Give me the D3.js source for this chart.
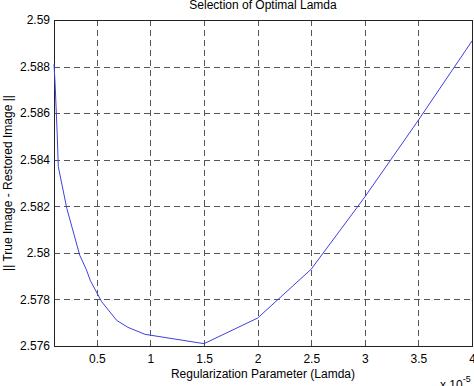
<!DOCTYPE html>
<html>
<head>
<meta charset="utf-8">
<script src="https://cdn.jsdelivr.net/npm/d3@7"></script>
<style>
	body { margin: 0; background: #fff; }
	svg text { font-family: "Liberation Sans", Arial, sans-serif; fill: #000; }
</style>
</head>
<body>
<script>
// data (lambda in units of 1e-5)
var lambdas = [0.1, 0.11, 0.13, 0.14, 0.22, 0.34, 0.4, 0.44, 0.545, 0.685, 0.79, 0.95, 1.5, 2, 2.5, 3, 3.5, 4];
var errors = [2.5881, 2.5873, 2.5851, 2.5837, 2.5819, 2.5799, 2.5793, 2.5788, 2.5779, 2.5771, 2.5768, 2.5765, 2.5761, 2.5772, 2.5793, 2.5824, 2.5857, 2.5891];
var xTicks = [0.5, 1, 1.5, 2, 2.5, 3, 3.5, 4];
var xTickLabels = ["0.5", "1", "1.5", "2", "2.5", "3", "3.5", "4"];
var yTicks = [2.576, 2.578, 2.58, 2.582, 2.584, 2.586, 2.588, 2.59];
var yTickLabels = ["2.576", "2.578", "2.58", "2.582", "2.584", "2.586", "2.588", "2.59"];

// basic variables
var width = 474,
	height = 386,
	mLeft = 54,
	mRight = 472,
	mTop = 20,
	mBottom = 346;

var svg = d3.select("body")
	.append("svg")
		.attr("width", width)
		.attr("height", height);

var x = d3.scaleLinear().domain([0.1, 4]).range([mLeft, mRight]);
var y = d3.scaleLinear().domain([2.576, 2.59]).range([mBottom, mTop]);

// grid
var grid = svg.append("g")
	.attr("stroke", "#555")
	.attr("stroke-width", 1)
	.attr("stroke-dasharray", "6,4");

grid.selectAll(".vg")
	.data(xTicks.filter(function(d) { return d < 4; }))
	.enter().append("line")
	.attr("x1", function(d) { return Math.round(x(d)) + 0.5; })
	.attr("x2", function(d) { return Math.round(x(d)) + 0.5; })
	.attr("y1", mTop)
	.attr("y2", mBottom);

grid.selectAll(".hg")
	.data(yTicks.filter(function(d) { return d > 2.576 && d < 2.59; }))
	.enter().append("line")
	.attr("x1", mLeft)
	.attr("x2", mRight)
	.attr("y1", function(d) { return Math.round(y(d)) + 0.5; })
	.attr("y2", function(d) { return Math.round(y(d)) + 0.5; });

// box
svg.append("rect")
	.attr("x", mLeft + 0.5)
	.attr("y", mTop + 0.5)
	.attr("width", mRight - mLeft)
	.attr("height", mBottom - mTop)
	.attr("fill", "none")
	.attr("stroke", "#222")
	.attr("stroke-width", 1);

// axes
var xAxis = d3.axisBottom(x)
	.tickValues(xTicks)
	.tickSize(0)
	.tickPadding(8)
	.tickFormat(function(d, i) { return xTickLabels[i]; });

svg.append("g")
	.attr("class", "x axis")
	.attr("transform", "translate(0," + mBottom + ")")
	.call(xAxis)
	.call(function(g) { g.select(".domain").remove(); })
	.selectAll("text")
		.style("font-size", "12px");

var yAxis = d3.axisLeft(y)
	.tickValues(yTicks)
	.tickSize(0)
	.tickPadding(4)
	.tickFormat(function(d, i) { return yTickLabels[i]; });

svg.append("g")
	.attr("class", "y axis")
	.attr("transform", "translate(" + mLeft + ",0)")
	.call(yAxis)
	.call(function(g) { g.select(".domain").remove(); })
	.selectAll("text")
		.style("font-size", "12px");

// curve
var line = d3.line()
	.x(function(d, i) { return x(lambdas[i]); })
	.y(function(d) { return y(d); });

svg.append("path")
	.datum(errors)
	.attr("d", line)
	.attr("fill", "none")
	.attr("stroke", "#4040e0")
	.attr("stroke-width", 1);

// labels
svg.append("text")
	.attr("x", (mLeft + mRight) / 2)
	.attr("y", 9)
	.attr("text-anchor", "middle")
	.style("font-size", "12px")
	.text("Selection of Optimal Lamda");

svg.append("text")
	.attr("x", (mLeft + mRight) / 2)
	.attr("y", 378)
	.attr("text-anchor", "middle")
	.style("font-size", "12px")
	.text("Regularization Parameter (Lamda)");

svg.append("text")
	.attr("transform", "translate(12," + ((mTop + mBottom) / 2) + ") rotate(-90)")
	.attr("text-anchor", "middle")
	.style("font-size", "12px")
	.text("|| True Image - Restored Image ||");

var exp = svg.append("text")
	.attr("x", 440)
	.attr("y", 389)
	.style("font-size", "12px");
exp.append("tspan").text("x 10");
exp.append("tspan").attr("dy", -7).style("font-size", "9px").text("-5");
</script>
</body>
</html>
